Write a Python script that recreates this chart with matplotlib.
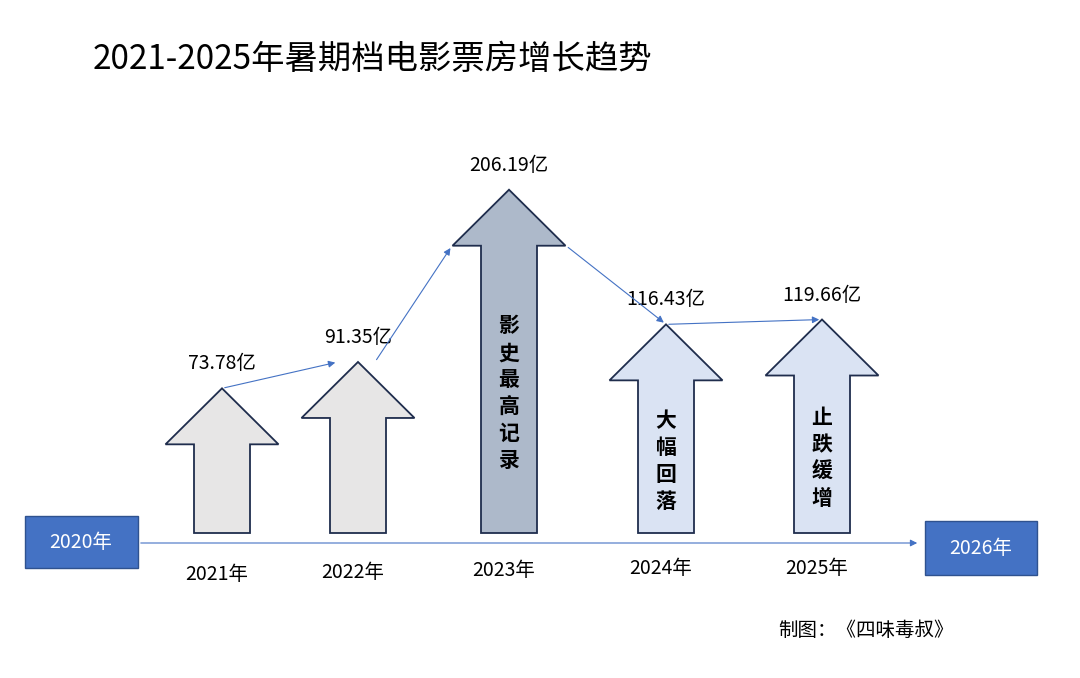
import matplotlib.pyplot as plt
from matplotlib.patches import Polygon, Rectangle

plt.rcParams['font.family'] = ['Noto Sans CJK SC', 'DejaVu Sans']

years = ['2021年', '2022年', '2023年', '2024年', '2025年']
values = [73.78, 91.35, 206.19, 116.43, 119.66]
notes = ['', '', '影史最高记录', '大幅回落', '止跌缓增']
fills = ['#e7e6e6', '#e7e6e6', '#adb9ca', '#dae3f3', '#dae3f3']
centers = [222, 358, 509, 666, 822]

fig = plt.figure(figsize=(10.8, 6.78), dpi=100)
ax = fig.add_axes([0, 0, 1, 1])
ax.set_xlim(0, 1080)
ax.set_ylim(678, 0)
ax.axis('off')

base = 533
shaft_w, head_w, head_h = 56, 113, 56
tips = []
for cx, v, fc, note in zip(centers, values, fills, notes):
    h = 34 + 1.5 * v
    top = base - h
    neck = top + head_h
    pts = [(cx - shaft_w / 2, base), (cx - shaft_w / 2, neck), (cx - head_w / 2, neck),
           (cx, top), (cx + head_w / 2, neck), (cx + shaft_w / 2, neck), (cx + shaft_w / 2, base)]
    ax.add_patch(Polygon(pts, closed=True, fc=fc, ec='#1f2d4d', lw=1.3))
    ax.text(cx, top - 14, f'{v:.2f}亿', ha='center', va='bottom', fontsize=14)
    if note:
        ax.text(cx, (neck + base) / 2 + 4, '\n'.join(note), ha='center', va='center',
                fontsize=15, fontweight='bold', linespacing=1.35)
    tips.append((cx, top, neck))

# connecting trend arrows
links = [((tips[0][0], tips[0][1]), (tips[1][0] - 20, tips[1][1])),
         ((tips[1][0] + 17, tips[1][1]), (tips[2][0] - 57, tips[2][2])),
         ((tips[2][0] + 57, tips[2][2]), (tips[3][0], tips[3][1])),
         ((tips[3][0], tips[3][1]), (tips[4][0], tips[4][1]))]
for a, b in links:
    ax.annotate('', xy=b, xytext=a,
                arrowprops=dict(arrowstyle='-|>', color='#4472c4', lw=0.8, mutation_scale=10))

# timeline
ax.annotate('', xy=(920, 543), xytext=(138, 543),
            arrowprops=dict(arrowstyle='-|>', color='#4472c4', lw=0.8, mutation_scale=10))
ax.add_patch(Rectangle((25, 516), 113, 52, fc='#4472c4', ec='#2f528f', lw=1))
ax.text(81, 542, '2020年', color='white', ha='center', va='center', fontsize=14)
ax.add_patch(Rectangle((925, 521), 112, 54, fc='#4472c4', ec='#2f528f', lw=1))
ax.text(981, 548, '2026年', color='white', ha='center', va='center', fontsize=14)
for cx, y, dy in zip(centers, years, [575, 573, 571, 569, 569]):
    ax.text(cx - 5, dy, y, ha='center', va='center', fontsize=14)

ax.text(93, 60, '2021-2025年暑期档电影票房增长趋势', ha='left', va='center', fontsize=24)
ax.text(778, 630, '制图：《四味毒叔》', ha='left', va='center', fontsize=14)

fig.savefig('out.png', dpi=100)
